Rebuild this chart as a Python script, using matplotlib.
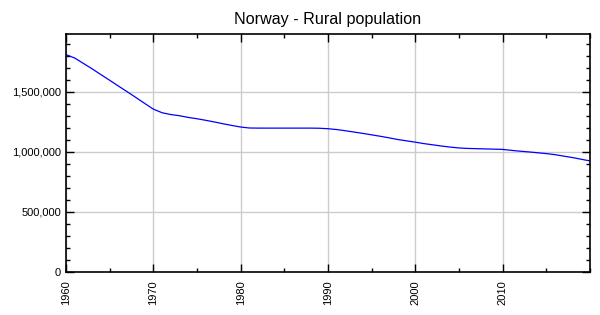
import numpy as np
import matplotlib
matplotlib.use("Agg")
import matplotlib.pyplot as plt
from matplotlib.ticker import MultipleLocator, FuncFormatter

plt.rcParams['font.family'] = ['Liberation Sans', 'DejaVu Sans']

years = list(range(1960, 2021))
# rural population, thousands
rural = [1808, 1780, 1735, 1690, 1642, 1595, 1547, 1500, 1452, 1403,
         1355, 1325, 1310, 1300, 1286, 1275, 1262, 1248, 1233, 1219,
         1206, 1198, 1197, 1197, 1197, 1197, 1197, 1197, 1197, 1196,
         1192, 1185, 1175, 1164, 1153, 1141, 1129, 1116, 1102, 1091,
         1080, 1068, 1058, 1048, 1039, 1032, 1028, 1026, 1024, 1022,
         1020, 1012, 1005, 999, 992, 985, 976, 964, 952, 938, 924]
rural = np.array(rural) * 1000

fig = plt.figure(figsize=(6, 3.15), dpi=100)
ax = fig.add_axes([66 / 600, 1 - 272 / 315, 524 / 600, 238 / 315])

ax.plot(years, rural, color='#0000ff', linewidth=0.9)

ax.set_xlim(1960, 2020)
ax.set_ylim(0, 1980000)
ax.xaxis.set_minor_locator(MultipleLocator(5))
ax.yaxis.set_major_locator(MultipleLocator(500000))
ax.yaxis.set_minor_locator(MultipleLocator(100000))
ax.yaxis.set_major_formatter(FuncFormatter(lambda v, p: f"{int(v):,}"))
ax.set_xticks([1960, 1970, 1980, 1990, 2000, 2010])

ax.grid(True, which='major', color='#cccccc', linewidth=1)
ax.set_axisbelow(True)
ax.tick_params(which='both', direction='in', top=True, right=True,
               labelsize=8, color='black', width=1)
ax.tick_params(which='major', length=6)
ax.tick_params(which='minor', length=3)
ax.tick_params(axis='x', labelrotation=90, pad=6)
for s in ax.spines.values():
    s.set_linewidth(1.2)
    s.set_color('black')

ax.set_title("Norway - Rural population", fontsize=11.6, pad=7)

fig.savefig("out.png", dpi=100)
